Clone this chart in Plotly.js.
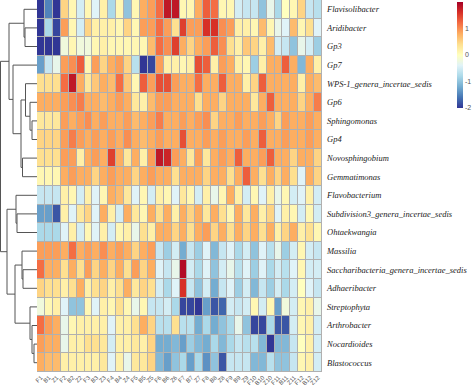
<!DOCTYPE html>
<html><head><meta charset="utf-8">
<script src="https://cdn.plot.ly/plotly-3.0.1.min.js"></script>
<style>html,body{margin:0;padding:0;background:#fff}#chart{width:474px;height:385px}</style>
</head><body><div id="chart"></div>
<script>
const sampleLabels = ["F1","B1","Z1","F2","B2","Z2","F3","B3","Z3","F4","B4","Z4","F5","B5","Z5","F6","B6","Z6",
  "F7","B7","Z7","F8","B8","Z8","F9","B9","Z9","F10","B10","Z10","F11","B11","Z11","F12","B12","Z12"];
const taxa = ["Flavisolibacter","Aridibacter","Gp3","Gp7","WPS-1_genera_incertae_sedis","Gp6","Sphingomonas","Gp4",
  "Novosphingobium","Gemmatimonas","Flavobacterium","Subdivision3_genera_incertae_sedis","Ohtaekwangia","Massilia",
  "Saccharibacteria_genera_incertae_sedis","Adhaeribacter","Streptophyta","Arthrobacter","Nocardioides","Blastococcus"];

const flavisolibacter = [-2,-1.5,-2,0.5,0.1,-0.5,0.1,-0.4,0.2,-0.8,0.1,-1.0,0.1,0.8,0.9,1.2,1.8,1.8,0.1,0.1,0.8,1.3,1.2,0.1,0.1,-0.5,-0.6,-0.6,-1.0,-0.3,-0.8,0.0,0.1,0.5,-0.6,-0.7];
const aridibacter = [-2,-0.8,-1.9,0.9,0.1,-0.5,0.5,0.2,0.2,0.2,0.1,0.5,0.1,0.9,0.9,1.2,0.9,0.4,1.5,0.9,0.9,1.6,1.6,1.0,0.9,0.2,0.2,0.1,0.7,0.1,-0.3,-0.4,0.7,0.1,0.4,-0.4];
const gp3 = [-2,-2,-2,-0.2,0.1,-0.2,-0.2,0.1,0.2,0.1,0.1,0.1,0.1,0.1,0.7,1.2,1.0,1.5,0.8,0.5,0.8,0.9,1.3,1.0,0.4,0.2,0.6,0.5,0.2,0.7,-0.5,-0.6,-1.0,-0.3,-0.5,-0.9];
const gp7 = [-1.3,-0.6,-0.3,0.9,1.0,1.3,0.1,0.9,0.5,0.8,0.9,0.5,-0.7,-2,-1.9,0.9,0.2,0.2,0.1,0.2,1.4,1.3,0.2,0.9,0.8,0.2,0.1,-0.9,0.2,0.8,0.8,1.3,0.8,-1.1,0.8,0.2];
const wps1 = [0.4,0.4,0.4,1.2,1.8,0.8,0.3,0.6,0.8,0.7,1.2,0.6,0.1,1.3,0.9,1.4,1.4,0.9,0.8,0.8,1.2,0.8,0.8,1.3,0.8,0.8,0.2,0.5,1.3,0.8,0.8,0.8,0.8,0.2,0.8,0.7];
const gp6 = [0.8,0.8,0.8,0.9,1.0,1.1,0.8,0.8,0.7,0.8,0.9,0.8,0.3,0.2,0.7,0.9,0.9,0.8,0.8,0.8,0.4,0.8,0.8,0.5,0.8,0.8,0.8,0.3,0.8,1.3,0.8,0.8,0.8,0.5,0.8,1.1];
const sphingomonas = [0.3,0.3,0.3,0.9,0.8,0.9,1.0,0.8,0.9,0.8,0.8,0.9,0.7,0.8,0.9,1.1,0.8,0.8,0.9,0.8,0.9,1.0,0.5,0.8,0.8,0.9,0.8,0.8,0.9,0.8,0.5,0.9,0.8,0.8,0.9,0.8];
const gp4 = [0.5,0.5,0.5,0.9,1.1,0.9,0.8,0.9,0.8,0.9,0.8,1.0,0.8,0.7,0.8,0.9,0.8,0.8,1.4,0.8,0.8,0.9,0.8,0.9,0.8,0.8,0.9,0.8,1.3,0.8,0.8,0.9,0.8,0.8,0.9,0.8];
const novosphingobium = [0.4,0.4,0.4,0.9,0.9,0.2,0.8,0.9,0.8,1.5,0.8,0.3,0.8,0.2,0.9,1.8,1.7,0.9,0.8,0.3,0.9,0.3,0.8,0.9,0.8,1.3,0.8,0.8,0.9,1.3,0.8,0.8,0.5,0.8,0.8,0.5];
const gemmatimonas = [0.1,0.1,0.1,0.8,0.9,0.8,0.8,0.5,0.8,0.9,0.8,0.8,0.5,0.8,0.9,0.8,0.8,0.4,0.8,0.8,0.8,0.5,0.8,0.8,0.4,0.8,1.3,0.8,0.4,0.8,0.5,0.8,0.4,-0.4,0.8,0.5];
const flavobacterium = [-0.6,-0.6,-0.6,0.2,0.1,-0.5,0.2,-0.4,0.1,0.8,0.7,0.3,-0.4,0.1,-0.5,0.2,0.1,-0.4,0.3,0.1,-0.5,0.2,-0.3,0.1,0.8,0.2,-0.5,0.1,-0.4,0.2,-0.3,0.1,-0.5,-0.4,0.2,-0.5];
const subdivision3 = [-1.3,-1.3,-1.8,0.2,-0.4,0.3,0.5,-0.4,0.8,0.2,-0.5,0.8,0.3,0.1,0.8,0.4,0.8,0.2,0.8,0.5,0.8,0.3,0.8,0.4,0.1,0.8,0.3,0.8,0.2,0.5,-0.4,0.2,0.1,-0.5,0.1,-0.5];
const ohtaekwangia = [-0.8,-0.8,-0.8,-0.4,0.2,-0.5,0.1,-0.4,0.2,-0.5,0.1,0.2,-0.3,0.4,0.2,0.8,0.8,0.5,0.8,0.4,0.8,0.9,0.5,0.8,0.4,0.8,0.5,0.8,0.4,0.8,0.2,0.5,0.8,0.2,0.4,0.1];
const massilia = [0.9,0.9,0.9,0.8,1.2,0.8,0.9,0.8,1.0,0.8,0.9,0.8,0.5,0.8,0.9,-0.6,-0.9,-0.5,-1.2,-0.6,-0.9,-0.4,-1.1,-0.6,-0.4,-0.8,-0.5,-1.0,-0.4,-0.7,-0.3,-0.9,-0.5,0.1,-0.5,-0.6];
const saccharibacteria = [1.2,0.8,0.8,0.4,0.8,0.4,0.9,0.5,0.8,0.5,0.8,0.4,0.9,0.5,0.8,-0.4,-0.6,-0.3,1.9,-0.5,-0.8,-0.4,-1.0,-0.5,-0.3,-0.7,-0.4,-0.9,-0.4,-0.8,-0.5,-0.7,-0.4,0.1,-0.5,-0.5];
const adhaeribacter = [0.5,0.4,0.4,0.2,0.4,0.8,0.2,0.4,0.5,0.2,0.4,0.8,0.3,0.5,0.4,-0.5,-0.8,-0.4,1.6,-0.6,-1.0,-0.5,-1.2,-0.6,-0.4,-0.9,-0.5,-1.1,-0.6,-0.9,-0.5,-0.8,-0.5,0.0,-0.4,-0.6];
const streptophyta = [-0.2,0.1,0.2,-0.4,-1.0,-1.0,0.1,-0.4,0.2,0.1,0.4,0.1,-0.3,0.1,-0.6,-0.6,-0.5,-0.8,-1.9,-1.9,-2,-1.3,-1.8,-1.7,-0.5,-0.6,-0.5,0.1,-0.5,0.1,-1.3,-0.2,-0.5,0.1,0.2,-0.3];
const arthrobacter = [1.2,0.9,0.8,-0.3,0.1,0.2,0.2,0.2,0.2,-0.4,0.2,0.2,0.4,0.8,0.5,-0.7,-0.7,0.4,-0.7,-0.7,-1.2,-0.8,-1.2,-1.0,-0.8,-0.3,-1.0,-1.9,-1.9,-0.8,-1.8,-1.8,-0.5,0.1,0.2,-0.5];
const nocardioides = [0.9,0.8,0.8,-0.3,0.2,0.2,0.4,0.4,0.3,-0.5,0.2,0.2,0.3,0.2,0.5,-1.2,-1.2,-1.1,-1.3,-0.9,-1.1,-1.2,-0.8,-1.1,-0.8,-0.6,-0.7,-0.7,-1.1,-2.0,-1.1,-1.1,-0.6,0.0,0.2,-0.5];
const blastococcus = [0.8,0.7,0.7,0.2,0.2,0.2,0.2,0.2,0.3,-0.4,0.2,-0.3,0.3,0.3,0.5,-1.1,-1.3,-1.0,-0.8,-1.3,-0.8,-1.4,-1.0,-1.8,-0.6,-0.6,-0.6,-1.1,-1.1,-0.7,-1.0,-1.0,-0.6,0.1,0.2,-0.5];

// row dendrogram merges: [left, right, height]; numbers = row index, strings = earlier merge "n<k>"
const merges = [
  [1, 2, 12], [0, "n0", 13], [6, 7, 5], [5, "n2", 7], [4, "n3", 11.5], [8, 9, 14.5],
  ["n4", "n5", 16], [3, "n6", 24], ["n1", "n7", 28], [11, 12, 20], [10, "n9", 21],
  [14, 15, 14], [13, "n11", 15], [18, 19, 3], [17, "n13", 5], [16, "n14", 7],
  ["n12", "n15", 22], ["n10", "n16", 30], ["n8", "n17", 36.5]
];

const zRows = [flavisolibacter, aridibacter, gp3, gp7, wps1, gp6, sphingomonas, gp4, novosphingobium,
  gemmatimonas, flavobacterium, subdivision3, ohtaekwangia, massilia, saccharibacteria, adhaeribacter,
  streptophyta, arthrobacter, nocardioides, blastococcus];

const colIdx = sampleLabels.map((_, i) => i);
const rowIdx = taxa.map((_, i) => i);

// dendrogram segments
const nodes = {};
function pos(c) { return (typeof c === "number") ? {y: c, h: 0} : nodes[c]; }
const dx = [], dy = [];
merges.forEach((m, k) => {
  const a = pos(m[0]), b = pos(m[1]), h = m[2];
  dx.push(a.h, h, h, b.h, null);
  dy.push(a.y, a.y, b.y, b.y, null);
  nodes["n" + k] = {y: (a.y + b.y) / 2, h: h};
});

const W = 474;
const heatL = 37 / W, heatR = 322 / W;

const traces = [
  {
    type: "heatmap", z: zRows, x: colIdx, y: rowIdx, zmin: -2, zmax: 2,
    xgap: 1, ygap: 1, hoverinfo: "skip",
    colorscale: [[0, "#313695"], [0.1, "#4575b4"], [0.2, "#74add1"], [0.3, "#abd9e9"], [0.4, "#e0f3f8"],
      [0.5, "#ffffbf"], [0.6, "#fee090"], [0.7, "#fdae61"], [0.8, "#f46d43"], [0.9, "#d73027"], [1, "#a50026"]],
    colorbar: {
      x: 457 / W, xanchor: "left", xpad: 0, y: 0.995, yanchor: "top", ypad: 0,
      len: 0.285, lenmode: "fraction", thickness: 6, thicknessmode: "pixels",
      outlinewidth: 0, ticks: "", tickvals: [-2, -1, 0, 1, 2], ticktext: ["-2", "-1", "0", "1", "2"],
      tickfont: {size: 7, color: "#555", family: "Liberation Sans"}
    }
  },
  {
    type: "scatter", mode: "lines", x: dx, y: dy, xaxis: "x2", yaxis: "y",
    line: {color: "#555", width: 1}, hoverinfo: "skip", cliponaxis: false, connectgaps: false
  }
];

const layout = {
  width: 474, height: 385, margin: {l: 0, r: 0, t: 0, b: 13},
  paper_bgcolor: "#fff", plot_bgcolor: "#fff", showlegend: false,
  xaxis: {
    domain: [heatL, heatR], range: [-0.5, 35.5], tickvals: colIdx, ticktext: sampleLabels,
    tickangle: -45, tickfont: {size: 6, color: "#555", family: "Liberation Sans"},
    showgrid: false, zeroline: false, ticks: "", showline: false, automargin: false
  },
  yaxis: {
    domain: [0, 1], range: [19.5, -0.5], side: "right", tickvals: rowIdx, ticktext: taxa,
    tickfont: {size: 8.5, color: "#222", family: "Liberation Serif", style: "italic"},
    showgrid: false, zeroline: false, ticks: "", showline: false, automargin: false, ticklabelstandoff: 4
  },
  xaxis2: {domain: [0, heatL], range: [37, 0], visible: false, anchor: "y"},
  shapes: [{type: "rect", xref: "x", yref: "y", x0: -0.5, x1: 35.5, y0: -0.5, y1: 19.5,
    fillcolor: "#b0b0b0", line: {width: 0}, layer: "below"}]
};

Plotly.newPlot("chart", traces, layout, {staticPlot: true, displayModeBar: false});
</script>
</body></html>
